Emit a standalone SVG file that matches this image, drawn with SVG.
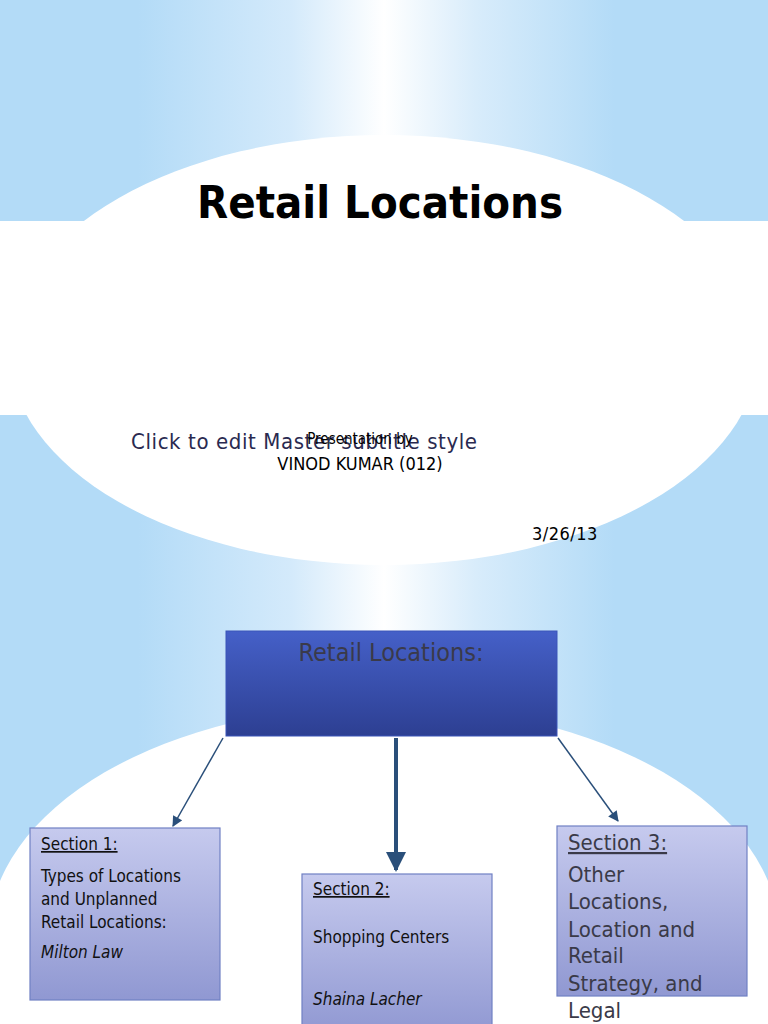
<svg xmlns="http://www.w3.org/2000/svg" width="768" height="1024" viewBox="0 0 768 1024">
<defs>
<linearGradient id="strip" x1="0" y1="0" x2="1" y2="0">
<stop offset="0" stop-color="#b3dbf7"/><stop offset="0.18" stop-color="#b3dbf7"/><stop offset="0.38" stop-color="#d4eafb"/><stop offset="0.5" stop-color="#ffffff"/><stop offset="0.62" stop-color="#d8ecfb"/><stop offset="0.8" stop-color="#b3dbf7"/><stop offset="1" stop-color="#b3dbf7"/>
</linearGradient>
<linearGradient id="main" x1="0" y1="0" x2="0" y2="1"><stop offset="0" stop-color="#4560c8"/><stop offset="1" stop-color="#2d3f92"/></linearGradient>
<linearGradient id="sec" x1="0" y1="0" x2="0" y2="1"><stop offset="0" stop-color="#c6caee"/><stop offset="1" stop-color="#9098d2"/></linearGradient>
<marker id="ah" viewBox="0 0 10 10" refX="9" refY="5" markerWidth="8" markerHeight="7" orient="auto"><path d="M0,0 L10,5 L0,10 z" fill="#2a4f7a"/></marker>
<marker id="ahb" viewBox="0 0 10 10" refX="9" refY="5" markerWidth="5.5" markerHeight="5" orient="auto"><path d="M0,0 L10,5 L0,10 z" fill="#2a4f7a"/></marker>
</defs>
<style>
text{font-family:"DejaVu Sans Condensed","Liberation Sans Narrow","DejaVu Sans",sans-serif}
.sec{fill:url(#sec);stroke:#7080c4;stroke-width:1.2}
.t{fill:#111;font-size:17px}
.t3{fill:#3a3a48;font-size:22px}
.c{stroke:#2a4f7a;fill:none}
</style>
<rect x="0" y="0" width="768" height="1024" fill="url(#strip)"/>
<ellipse cx="384" cy="350" rx="375" ry="215" fill="#fff"/>
<rect x="0" y="221" width="768" height="194" fill="#fff"/>
<ellipse cx="384" cy="935" rx="395" ry="230" fill="#fff"/>
<rect x="0" y="890" width="768" height="134" fill="#fff"/>
<g id="title">
<text x="380" y="218" text-anchor="middle" font-size="45" font-weight="bold" fill="#000">Retail Locations</text>
<text x="131" y="449" font-size="22" letter-spacing="0.6" fill="#2a2a50">Click to edit Master subtitle style</text>
<text x="360" y="444" text-anchor="middle" font-size="15" fill="#000">Presentation by</text>
<text x="360" y="470" text-anchor="middle" font-size="18" fill="#000">VINOD KUMAR (012)</text>
<text x="532" y="540" font-size="18" letter-spacing="0.5" fill="#000">3/26/13</text>
</g>
<g id="connectors">
<line class="c" x1="223" y1="738" x2="173" y2="826" stroke-width="1.5" marker-end="url(#ah)"/>
<line class="c" x1="396" y1="738" x2="396" y2="870" stroke-width="4" marker-end="url(#ahb)"/>
<line class="c" x1="558" y1="738" x2="618" y2="821" stroke-width="1.5" marker-end="url(#ah)"/>
</g>
<g id="main-box">
<rect x="226" y="631" width="331" height="105" fill="url(#main)" stroke="#3a55b8"/>
<text x="391" y="661" text-anchor="middle" font-size="25" fill="#3a3a4a">Retail Locations:</text>
</g>
<g id="section1">
<rect class="sec" x="30" y="828" width="190" height="172"/>
<text class="t" x="41" y="850" text-decoration="underline">Section 1:</text>
<text class="t" x="41" y="882">Types of Locations</text>
<text class="t" x="41" y="905">and Unplanned</text>
<text class="t" x="41" y="928">Retail Locations:</text>
<text class="t" x="41" y="958" font-style="italic">Milton Law</text>
</g>
<g id="section2">
<rect class="sec" x="302" y="874" width="190" height="160"/>
<text class="t" x="313" y="895" text-decoration="underline">Section 2:</text>
<text class="t" x="313" y="943">Shopping Centers</text>
<text class="t" x="313" y="1005" font-style="italic">Shaina Lacher</text>
</g>
<g id="section3">
<rect class="sec" x="557" y="826" width="190" height="170"/>
<text class="t3" x="568" y="850" text-decoration="underline">Section 3:</text>
<text class="t3" x="568" y="882">Other</text>
<text class="t3" x="568" y="909">Locations,</text>
<text class="t3" x="568" y="937">Location and</text>
<text class="t3" x="568" y="963">Retail</text>
<text class="t3" x="568" y="991">Strategy, and</text>
<text class="t3" x="568" y="1018">Legal</text>
</g>
</svg>
